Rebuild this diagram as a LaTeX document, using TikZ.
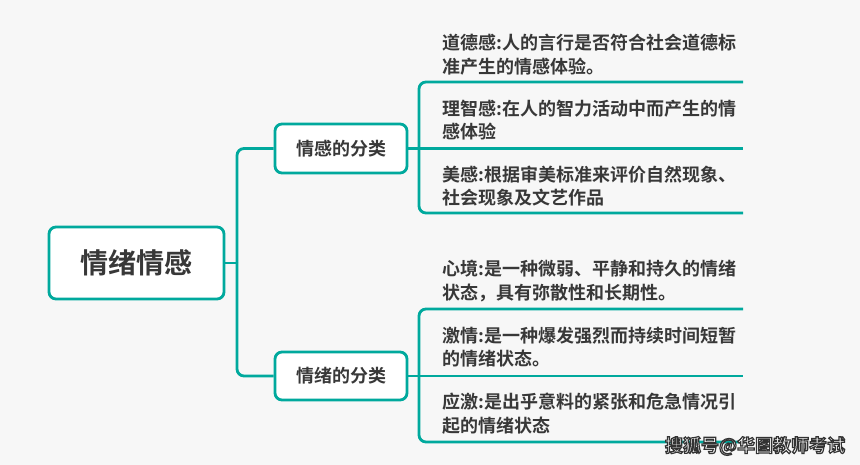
\documentclass[tikz,border=0pt]{standalone}
\usepackage{fontspec}
\setmainfont{Noto Sans CJK SC}[BoldFont={Noto Sans CJK SC Bold}]
\definecolor{teal1}{HTML}{00A99D}
\definecolor{bgc}{HTML}{F7F7F7}
\definecolor{txt}{HTML}{383838}
\begin{document}
\begin{tikzpicture}[x=1pt,y=-1pt,
  conn/.style={draw=teal1,line width=2.8pt},
  rconn/.style={conn,rounded corners=7pt},
  box/.style={draw=teal1,line width=2.8pt,fill=white,rounded corners=7pt,inner sep=0pt,text=txt},
  leaf/.style={anchor=west,inner sep=0pt,align=left,text=txt,font=\bfseries\fontsize{18}{23.5}\selectfont}]
\fill[bgc] (0,0) rectangle (860,465);
\useasboundingbox (0,0) rectangle (860,465);
% main boxes
\node[box,minimum width=175pt,minimum height=72pt,font=\bfseries\fontsize{28}{30}\selectfont] (root) at (136.5,263) {情绪情感};
\node[box,minimum width=132pt,minimum height=49pt,font=\bfseries\fontsize{18}{20}\selectfont] (b1) at (341,148.5) {情感的分类};
\node[box,minimum width=132pt,minimum height=48pt,font=\bfseries\fontsize{18}{20}\selectfont] (b2) at (341,376) {情绪的分类};
% junction coordinates
\coordinate (j0) at (237,263);
\coordinate (j1) at (419,148.5);
\coordinate (j2) at (419,376);
\coordinate (u1) at (743,82);
\coordinate (u2) at (743,148.5);
\coordinate (u3) at (743,213);
\coordinate (u4) at (743,309);
\coordinate (u5) at (743,376);
\coordinate (u6) at (743,442);
% root connectors
\draw[conn] (root.east) -- (j0);
\draw[rconn] (j0) |- (b1.west);
\draw[rconn] (j0) |- (b2.west);
% first group
\draw[conn] (b1.east) -- (u2);
\draw[rconn] (j1) |- (u1);
\draw[rconn] (j1) |- (u3);
% second group
\draw[conn] (b2.east) -- (u5);
\draw[rconn] (j2) |- (u4);
\draw[rconn] (j2) |- (u6);
% leaves
\node[leaf] (l1) at (442,54.5) {道德感:人的言行是否符合社会道德标\\准产生的情感体验。};
\node[leaf] (l2) at (442,120) {理智感:在人的智力活动中而产生的情\\感体验};
\node[leaf] (l3) at (442,186) {美感:根据审美标准来评价自然现象、\\社会现象及文艺作品};
\node[leaf] (l4) at (442,281) {心境:是一种微弱、平静和持久的情绪\\状态，具有弥散性和长期性。};
\node[leaf] (l5) at (442,347) {激情:是一种爆发强烈而持续时间短暂\\的情绪状态。};
\node[leaf] (l6) at (442,413.5) {应激:是出乎意料的紧张和危急情况引\\起的情绪状态};
% watermark
\node[inner sep=0pt,text=white,font=\bfseries\fontsize{18}{20}\selectfont] (wm) at (755,446) {\special{pdf:literal 2 Tr 0.2 0.2 0.2 RG 1.2 w}搜狐号@华图教师考试\special{pdf:literal 0 Tr}};
\end{tikzpicture}
\end{document}
